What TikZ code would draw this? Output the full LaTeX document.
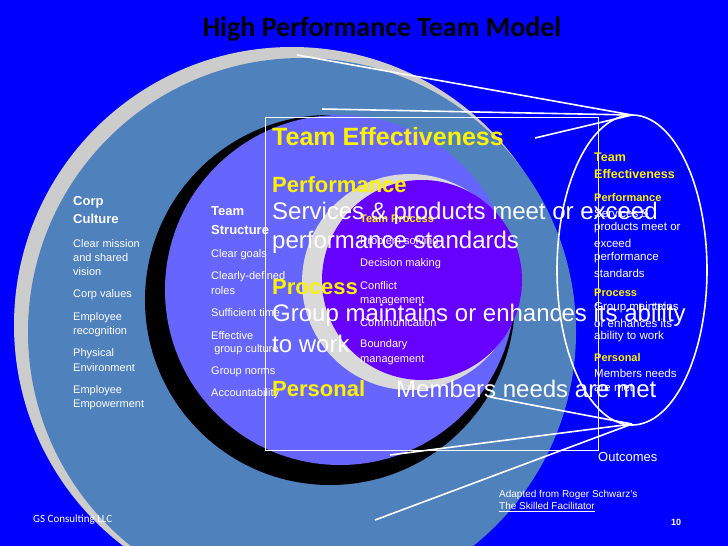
\documentclass[tikz,border=0pt]{standalone}
\usepackage{fontspec}
\usetikzlibrary{shapes.geometric}
\setmainfont{Liberation Sans}
\newfontfamily\calfont{Carlito}
\begin{document}
\begin{tikzpicture}[x=1pt,y=-1pt,
  tx/.style={anchor=west,text=white,font=\fontsize{11}{13}\selectfont,inner sep=0pt},
  rtx/.style={anchor=west,text=white,font=\fontsize{11.5}{13}\selectfont,inner sep=0pt},
  hd/.style={anchor=west,text=white,font=\bfseries\fontsize{13}{15}\selectfont,inner sep=0pt},
  yh/.style={anchor=west,text=yellow,font=\bfseries\fontsize{11}{13}\selectfont,inner sep=0pt},
  ryh/.style={anchor=west,text=yellow,font=\bfseries\fontsize{12.5}{14}\selectfont,inner sep=0pt},
  big/.style={anchor=west,text=white,font=\fontsize{24}{26}\selectfont,inner sep=0pt},
  bigy/.style={anchor=west,text=yellow,font=\bfseries\fontsize{22}{26}\selectfont,inner sep=0pt},
  wl/.style={white,line width=1.6pt}]
\definecolor{bg}{HTML}{0000FF}
\definecolor{steel}{HTML}{4F81BD}
\definecolor{lav}{HTML}{6666FF}
\definecolor{vio}{HTML}{6600FF}
\path[use as bounding box,fill=bg] (0,0) rectangle (728,546);
\begin{scope}
\clip (0,0) rectangle (728,546);
\fill[gray!40] (292,325) circle (278);
\fill[steel] (302,332) circle (274);
\fill[black] (330,300) circle (185);
\fill[lav] (340,290) circle (175);
\fill[gray!30] (410,282) circle (108);
\fill[vio] (422,280) circle (100);
\end{scope}
\node[draw=white,line width=0.6pt,minimum width=333,minimum height=333,inner sep=0pt] (frame) at (431.5,283.5) {};
\node[draw=white,line width=1.6pt,ellipse,minimum width=150,minimum height=310,inner sep=0pt] (ell) at (632,270) {};
\coordinate (et) at (632,115);
\coordinate (eb) at (632,424);
\coordinate (a1) at (297,55);
\coordinate (a2) at (322,109);
\coordinate (a3) at (535,138);
\coordinate (b1) at (490,397);
\coordinate (b2) at (390,455);
\coordinate (b3) at (375,520);
\draw[wl] (et) -- (a1); \draw[wl] (et) -- (a2); \draw[wl] (et) -- (a3);
\draw[wl] (eb) -- (b1); \draw[wl] (eb) -- (b2); \draw[wl] (eb) -- (b3);
\node[font=\calfont\bfseries\fontsize{28}{30}\selectfont,text=black] (title) at (382,29) {High Performance Team Model};
\node[hd] (cc1) at (73,202) {Corp};
\node[hd] (cc2) at (73,219) {Culture};
\node[tx] at (73,244) {Clear mission};
\node[tx] at (73,258) {and shared};
\node[tx] at (73,272) {vision};
\node[tx] at (73,295) {Corp values};
\node[tx] at (73,318) {Employee};
\node[tx] at (73,332) {recognition};
\node[tx] at (73,354) {Physical};
\node[tx] at (73,368) {Environment};
\node[tx] at (73,391) {Employee};
\node[tx] at (73,405) {Empowerment};
\node[hd] (ts1) at (211,211) {Team};
\node[hd] (ts2) at (211,230) {Structure};
\node[tx] at (211,255) {Clear goals};
\node[tx] at (211,277) {Clearly-defined};
\node[tx] at (211,291) {roles};
\node[tx] at (211,313) {Sufficient time};
\node[tx] at (211,336) {Effective};
\node[tx] at (211,350) {\ group culture};
\node[tx] at (211,372) {Group norms};
\node[tx] at (211,394) {Accountability};
\node[yh] (tp) at (360,219) {Team Process};
\node[tx] at (360,242) {Problem solving};
\node[tx] at (360,264) {Decision making};
\node[tx] at (360,286) {Conflict};
\node[tx] at (360,301) {management};
\node[tx] at (360,323) {Communication};
\node[tx] at (360,345) {Boundary};
\node[tx] at (360,360) {management};
\node[anchor=west,text=yellow,font=\bfseries\fontsize{25}{28}\selectfont,inner sep=0pt] (te) at (272,137) {Team Effectiveness};
\node[bigy] at (272,185) {Performance};
\node[big] at (272,213) {Services \& products meet or exceed};
\node[big] at (272,242) {performance standards};
\node[bigy] at (272,287) {Process};
\node[big] at (272,315) {Group maintains or enhances its ability};
\node[big] at (272,344) {to work};
\node[bigy] at (272,389) {Personal};
\node[big] at (396,389) {Members needs are met};
\node[ryh] at (594,157) {Team};
\node[ryh] at (594,174) {Effectiveness};
\node[yh] at (594,198) {Performance};
\node[rtx] at (594,213) {Services \&};
\node[rtx] at (594,228) {products meet or};
\node[rtx] at (594,243) {exceed};
\node[rtx] at (594,258) {performance};
\node[rtx] at (594,273) {standards};
\node[yh] at (594,293) {Process};
\node[rtx] at (594,308) {Group maintains};
\node[rtx] at (594,323) {or enhances its};
\node[rtx] at (594,337) {ability to work};
\node[yh] at (594,358) {Personal};
\node[rtx] at (594,373) {Members needs};
\node[rtx] at (594,388) {are met};
\node[anchor=west,text=white,font=\fontsize{13}{15}\selectfont,inner sep=0pt] (out) at (598,457) {Outcomes};
\node[anchor=west,text=white,font=\fontsize{10}{11}\selectfont,inner sep=0pt] (ad1) at (499,495) {Adapted from Roger Schwarz's};
\node[anchor=west,text=white,font=\fontsize{10}{11}\selectfont,inner sep=0pt] (ad2) at (499,507) {\underline{The Skilled Facilitator}};
\node[anchor=west,text=white,font=\calfont\fontsize{11}{13}\selectfont,inner sep=0pt] (gs) at (33,520) {GS Consulting LLC};
\node[text=white,font=\bfseries\fontsize{9}{11}\selectfont,inner sep=0pt] (pg) at (676,522) {10};
\end{tikzpicture}
\end{document}
